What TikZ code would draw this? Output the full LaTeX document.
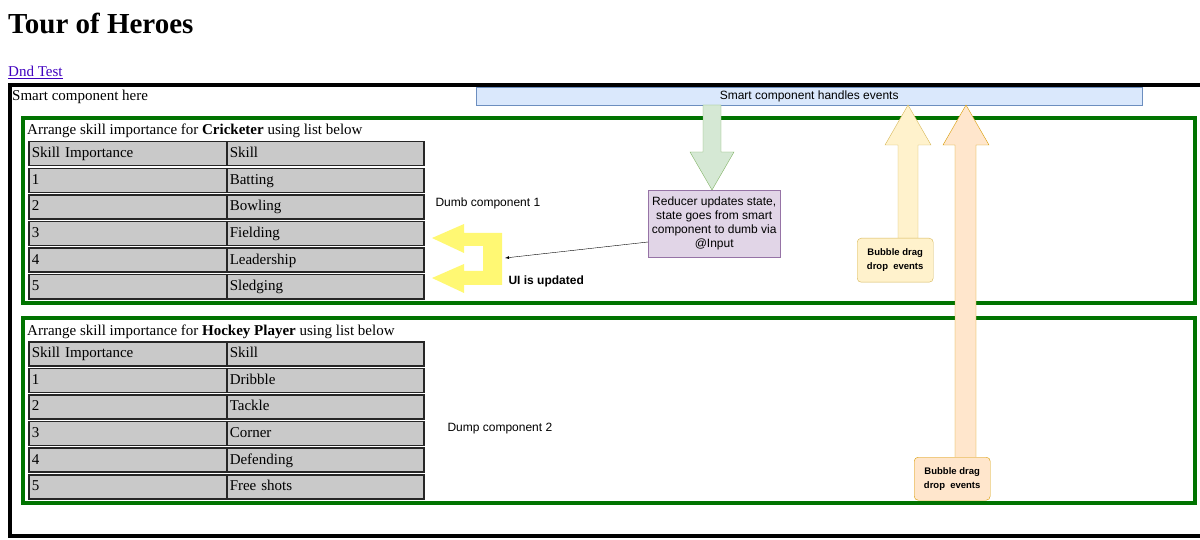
\documentclass[tikz,border=0pt]{standalone}
\usepackage{fontspec}
\setmainfont{Liberation Serif}
\newfontfamily\sans{Liberation Sans}
\definecolor{bluef}{HTML}{DAE8FC}\definecolor{blued}{HTML}{6C8EBF}
\definecolor{purf}{HTML}{E1D5E7}\definecolor{purd}{HTML}{9673A6}
\definecolor{grf}{HTML}{D5E8D4}\definecolor{grd}{HTML}{82B366}
\definecolor{yf}{HTML}{FFF2CC}\definecolor{yd}{HTML}{D6B656}
\definecolor{of}{HTML}{FFE6CC}\definecolor{od}{HTML}{D79B00}
\begin{document}
\begin{tikzpicture}[x=1pt,y=-1pt,
 cell/.style={draw=black!85,line width=1.5pt,fill=black!21,anchor=north west,minimum height=24pt,text height=11pt,text depth=3pt,inner sep=3pt,font=\fontsize{15}{15}\selectfont,align=left},
 grn/.style={draw=green!45!black,line width=3.5pt},
 sm/.style={font=\sans\fontsize{12}{14}\selectfont},
 sb/.style={font=\sans\bfseries\fontsize{9.5}{14}\selectfont}]
\useasboundingbox (0,0) rectangle (1200,540);
\node[anchor=base west,inner sep=0,font=\bfseries\fontsize{29}{29}\selectfont] (title) at (8,34) {Tour of Heroes};
\node[anchor=base west,inner sep=0,text=blue!50!violet,font=\fontsize{15}{15}\selectfont] (dnd) at (8,77) {\underline{Dnd Test}};
\draw[line width=4pt] (1200,85) -- (10,85) -- (10,536) -- (1200,536);
\node[anchor=base west,inner sep=0,font=\fontsize{15}{15}\selectfont] (sch) at (12,101) {Smart component here};
\node[draw=blued,fill=bluef,minimum width=666pt,minimum height=18pt,anchor=north west,inner sep=0,sm] (smart) at (476,87) {Smart component handles events};
% groups
\foreach \y/\name/\a/\b/\c/\d/\e in {118/Cricketer/Batting/Bowling/Fielding/Leadership/Sledging, 318/Hockey Player/Dribble/Tackle/Corner/Defending/Free shots}{
 \draw[grn] (23,\y) rectangle (1195,\y+185);
 \node[anchor=base west,inner sep=0,font=\fontsize{15}{15}\selectfont] at (27,\y+17) {Arrange skill importance for \textbf{\name} using list below};
 \foreach \i/\s/\t in {0/Skill Importance/Skill,1/1/\a,2/2/\b,3/3/\c,4/4/\d,5/5/\e}{
  \node[cell,text width=192pt] at (28,\y+23+\i*26.6) {\s};
  \node[cell,text width=191pt] at (226,\y+23+\i*26.6) {\t};
 }
}
\node[anchor=west,sm] (d1) at (432,203) {Dumb component 1};
\node[anchor=west,sm] (d2) at (444,429) {Dump component 2};
% green arrow
\draw[draw=grd,fill=grf] (703,105) -- (721,105) -- (721,152) -- (734,152) -- (712,190) -- (690,152) -- (703,152) -- cycle;
\node[draw=purd,fill=purf,anchor=north west,minimum width=132pt,minimum height=67pt,inner sep=1pt,align=center,sm] (red) at (648,190) {Reducer updates state,\\state goes from smart\\component to dumb via\\@Input};
% yellow bracket
\fill[yellow!55] (502,233) -- (502,285) -- (464,285) -- (464,293) -- (432,278) -- (464,264) -- (464,271) -- (483,271) -- (483,246) -- (464,246) -- (464,253) -- (432,238) -- (464,224) -- (464,233) -- cycle;
\coordinate (ui) at (505,258);
\draw[-latex] (red.west |- 0,242) -- (ui);
\node[anchor=west,font=\sans\bfseries\fontsize{12}{14}\selectfont] (uit) at (505,281) {UI is updated};
% bubble arrows
\draw[draw=yd,fill=yf] (898,238) -- (898,145) -- (885,145) -- (908,105) -- (931,145) -- (918,145) -- (918,238);
\node[draw=yd,fill=yf,rounded corners=4pt,anchor=north west,minimum width=76pt,minimum height=44pt,align=center,sb] (b1) at (857,238) {Bubble drag\\drop\ \ events};
\draw[draw=od,fill=of] (955,458) -- (955,145) -- (943,145) -- (966,105) -- (989,145) -- (976,145) -- (976,458);
\node[draw=od,fill=of,rounded corners=4pt,anchor=north west,minimum width=76pt,minimum height=43pt,align=center,sb] (b2) at (914,457) {Bubble drag\\drop\ \ events};
\end{tikzpicture}
\end{document}
